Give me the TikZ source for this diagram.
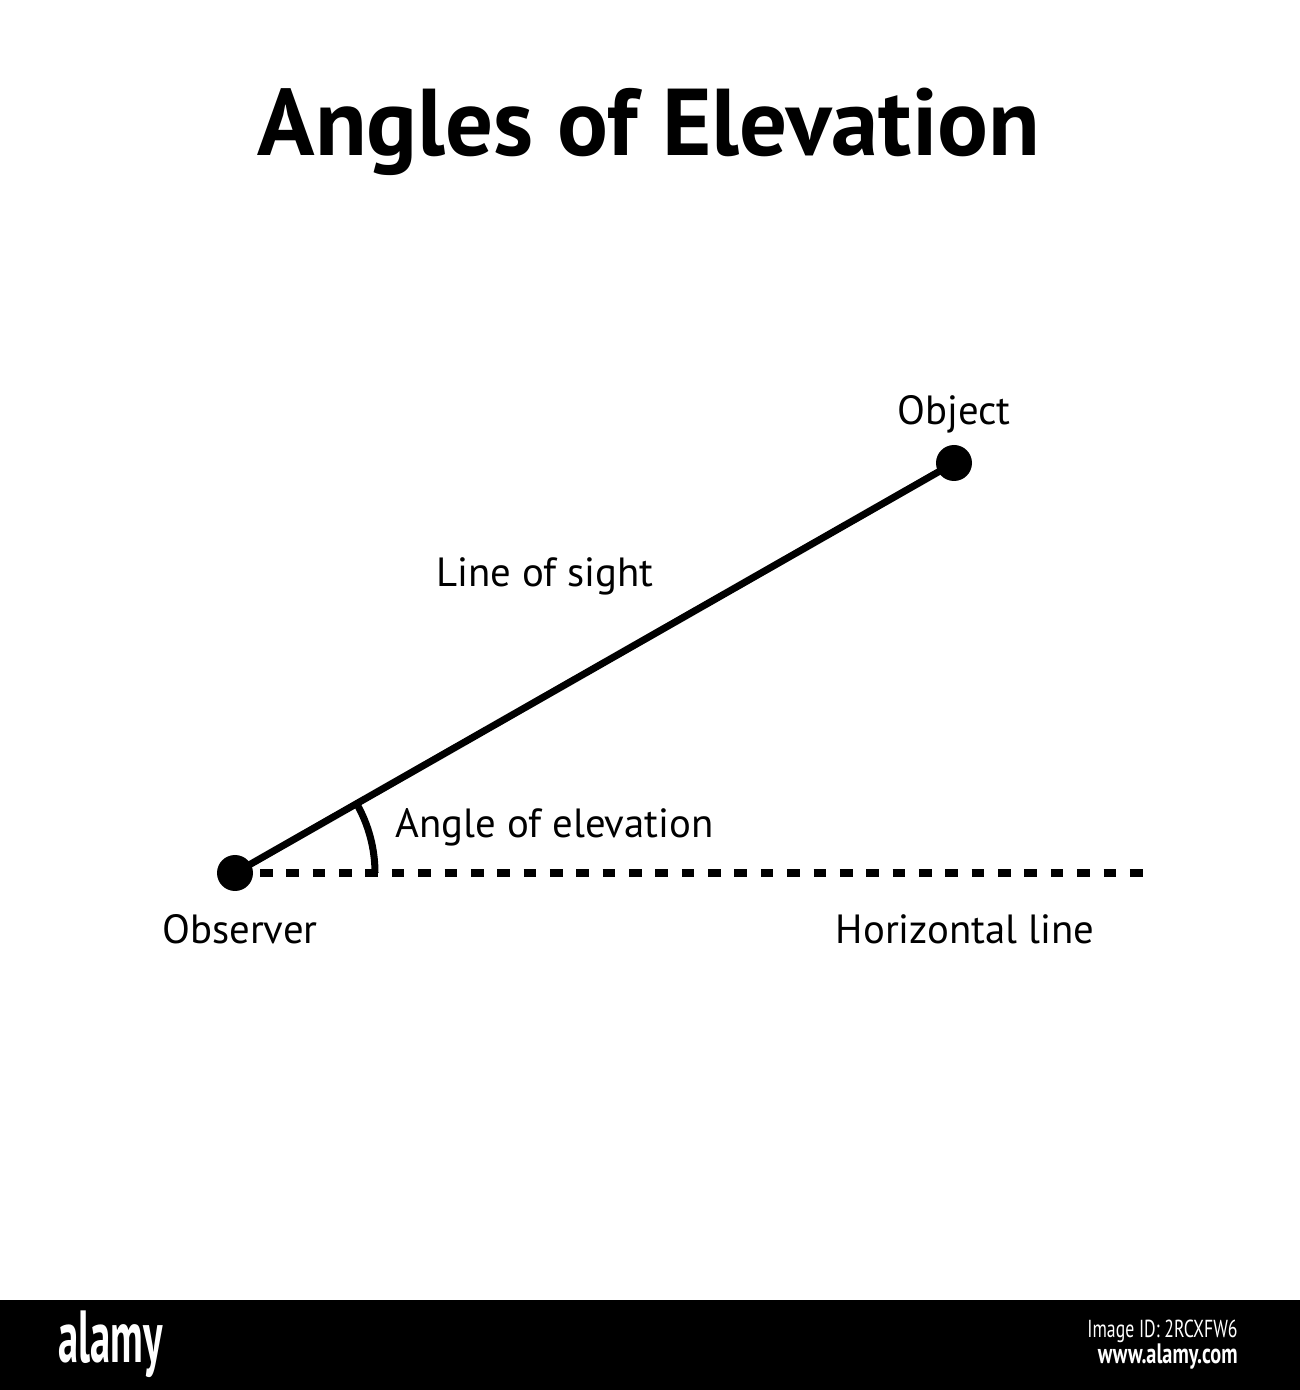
\documentclass[tikz,border=0pt]{standalone}
\usepackage{fontspec}
\setmainfont{PT Sans}
\usepackage{tikz}
\usetikzlibrary{positioning,calc}

\begin{document}
\begin{tikzpicture}[
dot/.style={circle, fill, minimum size = 3.6mm, inner sep = 0pt},
lbl/.style={font=\fontsize{11.6}{13}\selectfont, inner sep = 0pt},
sight/.style={line width = 2pt},
horiz/.style={line width = 2pt, dash pattern = on 3.6pt off 3.9pt}]
\useasboundingbox (0,0) rectangle (13,13.9);
\node[font=\fontsize{27}{32}\selectfont\bfseries] (title) at (6.49,12.58) {Angles of Elevation};
\node[dot] (obs) at (2.35,5.17) {};
\node[dot] (obj) at (9.54,9.27) {};
\coordinate (hstart) at (2.60,5.17);
\coordinate (hend) at (11.43,5.17);
\node[lbl] (objlbl) at (9.54,9.76) {Object};
\node[lbl] (sightlbl) at (5.45,8.14) {Line of sight};
\node[lbl, anchor = west] (anglbl) at (3.95,5.63) {Angle of elevation};
\node[lbl] (obslbl) at (2.40,4.61) {Observer};
\node[lbl] (horlbl) at (9.65,4.61) {Horizontal line};
\draw[sight] (obs.center) -- (obj.center);
\draw[horiz] (hstart) -- (hend);
\draw[sight] ($(obs.center)+(1.40,0)$) arc[start angle = 0, end angle = 29.7, radius = 1.40];
% stock bar
\fill[black] (0,0) rectangle (13,0.90);
\node[white, font=\fontsize{21}{23}\selectfont\bfseries, anchor = west] (brand) at (0.46,0.46) {\scalebox{0.55}[1]{alamy}};
\node[white, font=\fontsize{7}{8}\selectfont, anchor = east] (imgid) at (12.50,0.59) {\scalebox{0.72}[1]{Image ID: 2RCXFW6}};
\node[white, font=\fontsize{8}{9}\selectfont\bfseries, anchor = east] (site) at (12.50,0.33) {\scalebox{0.72}[1]{www.alamy.com}};
\end{tikzpicture}
\end{document}
